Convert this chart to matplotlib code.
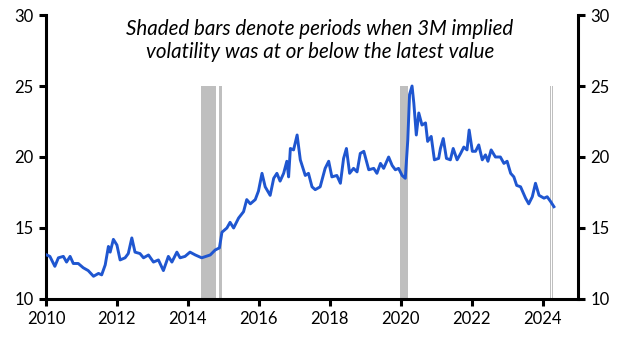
import matplotlib
matplotlib.use("Agg")
import matplotlib.pyplot as plt
import numpy as np

# decimal years and 3M implied volatility values
years = [2010.02, 2010.11, 2010.25, 2010.35, 2010.49, 2010.58, 2010.68, 2010.77, 2010.91,
         2011.05, 2011.19, 2011.34, 2011.48, 2011.57, 2011.67, 2011.76, 2011.81, 2011.90,
         2012.00, 2012.09, 2012.23, 2012.32, 2012.42, 2012.51, 2012.65, 2012.75, 2012.89,
         2013.03, 2013.17, 2013.31, 2013.45, 2013.55, 2013.69, 2013.78, 2013.92, 2014.06,
         2014.21, 2014.39, 2014.63, 2014.77, 2014.89, 2014.96, 2015.10, 2015.19, 2015.29,
         2015.43, 2015.57, 2015.66, 2015.76, 2015.90, 2015.99, 2016.09, 2016.18, 2016.32,
         2016.42, 2016.51, 2016.60, 2016.70, 2016.79, 2016.84, 2016.89, 2016.98, 2017.08,
         2017.17, 2017.31, 2017.40, 2017.50, 2017.59, 2017.73, 2017.87, 2017.97, 2018.06,
         2018.20, 2018.30, 2018.39, 2018.47, 2018.56, 2018.67, 2018.77, 2018.86, 2018.96,
         2019.10, 2019.24, 2019.33, 2019.43, 2019.52, 2019.66, 2019.76, 2019.85, 2019.94,
         2020.04, 2020.13, 2020.20, 2020.25, 2020.32, 2020.37, 2020.44, 2020.51, 2020.60,
         2020.70, 2020.76, 2020.86, 2020.95, 2021.07, 2021.12, 2021.20, 2021.29, 2021.40,
         2021.48, 2021.59, 2021.69, 2021.78, 2021.87, 2021.93, 2022.02, 2022.11, 2022.20,
         2022.30, 2022.39, 2022.46, 2022.55, 2022.67, 2022.81, 2022.91, 2023.00, 2023.10,
         2023.19, 2023.27, 2023.38, 2023.52, 2023.61, 2023.71, 2023.80, 2023.90, 2024.04,
         2024.13, 2024.23, 2024.32]
vol = [13.1, 13.0, 12.3, 12.9, 13.0, 12.6, 13.0, 12.5, 12.5,
       12.2, 12.0, 11.6, 11.8, 11.7, 12.4, 13.7, 13.3, 14.2,
       13.8, 12.75, 12.9, 13.2, 14.3, 13.3, 13.2, 12.9, 13.1,
       12.6, 12.75, 12.0, 13.0, 12.6, 13.3, 12.9, 13.0, 13.3,
       13.1, 12.9, 13.1, 13.45, 13.6, 14.7, 15.0, 15.4, 15.0,
       15.7, 16.15, 17.0, 16.7, 17.0, 17.6, 18.85, 17.9, 17.3,
       18.5, 18.85, 18.3, 18.85, 19.7, 18.6, 20.6, 20.5, 21.55,
       19.8, 18.7, 18.85, 17.9, 17.7, 17.9, 19.2, 19.7, 18.6,
       18.7, 18.15, 19.9, 20.6, 18.85, 19.2, 18.95, 20.25, 20.4,
       19.1, 19.2, 18.85, 19.55, 19.2, 20.0, 19.4, 19.1, 19.2,
       18.7, 18.5, 21.2, 24.4, 25.0, 23.8, 21.55, 23.1, 22.25,
       22.4, 21.1, 21.45, 19.8, 19.9, 20.6, 21.3, 19.9, 19.8,
       20.6, 19.8, 20.25, 20.7, 20.5, 21.9, 20.4, 20.4, 20.85,
       19.8, 20.15, 19.7, 20.5, 20.0, 20.0, 19.55, 19.7, 18.85,
       18.6, 18.0, 17.9, 17.1, 16.7, 17.2, 18.15, 17.3, 17.1,
       17.2, 16.85, 16.5]

# shaded periods (start, end)
shade_start = [2014.36, 2014.87, 2019.99, 2024.21, 2024.275]
shade_end = [2014.79, 2014.96, 2020.22, 2024.235, 2024.30]
shade_low, shade_high = 10, 25

xticks = [2010, 2012, 2014, 2016, 2018, 2020, 2022, 2024]
yticks = [10, 15, 20, 25, 30]

plt.rcParams['font.family'] = ['Lato', 'DejaVu Sans']

fig = plt.figure(figsize=(6.29, 3.54), dpi=100)
ax = fig.add_axes([0.0731, 0.1554, 0.919 - 0.0731, 0.9576 - 0.1554])

for s, e in zip(shade_start, shade_end):
    ax.bar(s, shade_high - shade_low, width=e - s, bottom=shade_low, align='edge',
           color='#bfbfbf', linewidth=0, zorder=1)

ax.plot(years, vol, color='#1f56d0', linewidth=2.1, zorder=3)

ax.set_xlim(2010, 2025)
ax.set_ylim(10, 30)
ax.set_xticks(xticks)
ax.set_xticklabels([str(t) for t in xticks])
ax.set_yticks(yticks)

ax2 = ax.twinx()
ax2.set_ylim(10, 30)
ax2.set_yticks(yticks)

for a in (ax, ax2):
    a.spines['top'].set_visible(False)
    for sp in ('left', 'right', 'bottom'):
        a.spines[sp].set_linewidth(2.2)
    a.tick_params(axis='both', direction='out', length=5, width=2.2, labelsize=12,
                  pad=4, colors='black')
ax.spines['right'].set_visible(False)
ax2.spines['left'].set_visible(False)
ax2.spines['bottom'].set_visible(False)

ax.text(0.515, 0.985, "Shaded bars denote periods when 3M implied\nvolatility was at or below the latest value",
        transform=ax.transAxes, ha='center', va='top', fontsize=14.8, style='italic',
        linespacing=1.15)

fig.savefig('out.png', dpi=100)
